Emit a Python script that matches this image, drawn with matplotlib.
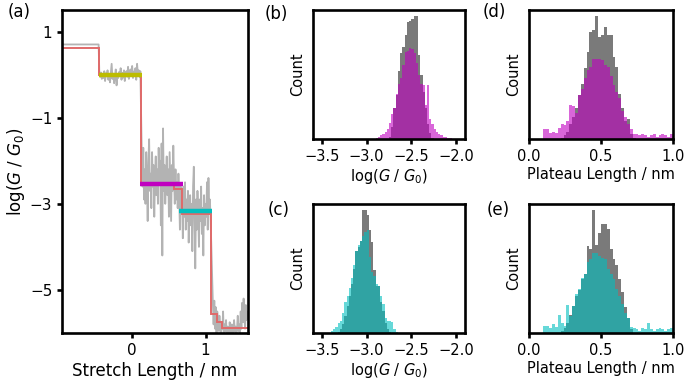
import numpy as np
import matplotlib
matplotlib.use("Agg")
import matplotlib.pyplot as plt

# ---------------- data: panel (a) trace ----------------
lead_x = [-0.96, -0.46]
lead_y = [0.70, 0.70]

seg1_x0, seg1_dx = -0.45, 0.0112
seg1_y = [0.02, -0.05, 0.05, -0.10, 0.00, -0.08, 0.08, -0.15, 0.03, -0.04, 0.10, -0.12,
          0.00, -0.18, 0.05, 0.25, -0.10, 0.02, -0.20, -0.06, 0.12, -0.25, 0.00, -0.08,
          0.06, -0.02, 0.15, -0.12, 0.04, -0.07, 0.10, -0.15, 0.02, 0.08, -0.05, 0.18,
          -0.10, 0.05, 0.12, -0.03, 0.20, -0.08, 0.07, 0.02, 0.15, -0.12, 0.25, 0.00,
          0.10, -0.05, 0.08]

seg2_x0, seg2_dx = 0.13, 0.01
seg2_y = [-1.9, -2.6, -1.7, -2.9, -2.2, -3.0, -1.8, -2.5, -3.4, -2.0, -1.5, -2.7, -2.3,
          -3.1, -1.8, -2.6, -2.1, -3.3, -2.4, -1.9, -2.8, -2.2, -3.0, -1.7, -2.5, -2.0,
          -3.5, -1.6, -4.2, -1.25, -2.7, -2.1, -3.0, -2.4, -1.9, -2.8, -2.2, -3.3, -1.8,
          -2.6, -3.4, -2.1, -2.7, -1.65, -2.4, -3.0, -2.2, -2.9, -2.5, -3.1, -2.3, -2.8,
          -3.6, -2.6, -3.2]

seg3_x0, seg3_dx = 0.68, 0.01
seg3_y = [-3.0, -3.8, -2.6, -3.3, -2.5, -3.6, -2.9, -3.4, -2.7, -3.9, -3.1, -2.8, -3.5,
          -3.0, -4.1, -2.6, -2.14, -3.3, -4.5, -2.9, -3.6, -2.7, -3.2, -4.0, -2.9, -3.4,
          -2.6, -3.7, -3.1, -4.2, -2.8, -3.5, -3.0, -3.3, -2.5, -3.6, -2.4, -3.2, -2.9,
          -3.4]

seg4_x0, seg4_dx = 1.10, 0.01
seg4_y = [-5.3, -5.8, -5.25, -5.9, -5.4, -6.1, -5.5, -5.7, -5.95, -5.6, -5.85, -6.1,
          -5.75, -5.9, -5.5, -6.1, -5.8, -5.95, -5.7, -6.1, -5.85, -5.9, -6.1, -5.75,
          -5.95, -6.1, -5.8, -5.9, -6.1, -5.7, -5.95, -5.85, -6.1, -5.9, -5.6, -5.95,
          -5.8, -6.1, -5.5, -5.9, -5.3, -5.75, -5.2, -5.6, -5.9, -5.35, -5.7, -5.5]

fit_edges = [-0.96, -0.45, 0.12, 0.57, 0.68, 1.08, 1.16, 1.23, 1.58]
fit_levels = [0.61, 0.0, -2.52, -2.66, -3.23, -5.56, -5.75, -5.88]

plateau_levels = [0.0, -2.54, -3.16]
plateau_starts = [-0.46, 0.10, 0.64]
plateau_ends = [0.13, 0.69, 1.09]
plateau_colors = ["#bcbc00", "#c000c0", "#00bfbf"]

# ---------------- data: histograms ----------------
g_edges_b = np.arange(-2.90, -2.0499, 0.025)
gray_b = [0, 0, 0, 0, 0, 0, 2, 10, 25, 36, 55, 70, 75, 85, 95, 96, 98, 100, 100, 68,
          52, 38, 25, 12, 5, 1, 0, 0, 0, 0, 0, 0, 0, 0]
mag_b = [1, 2, 3, 4, 6, 8, 13, 20, 25, 37, 45, 50, 60, 71, 72, 74, 73, 70, 62, 52,
         45, 44, 28, 44, 16, 12, 8, 6, 4, 3, 2, 2, 1, 1]

g_edges_c = np.arange(-3.45, -2.5999, 0.025)
gray_c = [0, 0, 0, 0, 0, 1, 3, 7, 14, 22, 30, 40, 52, 67, 70, 75, 100, 100, 96, 84,
          74, 51, 38, 38, 25, 18, 8, 3, 1, 0, 0, 0, 0, 0]
cyan_c = [0, 0, 2, 3, 5, 8, 10, 16, 25, 30, 37, 45, 55, 67, 72, 75, 79, 82, 84, 62,
          50, 46, 40, 38, 30, 24, 12, 10, 10, 9, 3, 1, 0, 0]

l_edges = np.arange(0.0, 1.0001, 0.02)
gray_d = [0, 0, 0, 0, 0, 0, 0, 0, 0, 0, 0, 1, 3, 6, 12, 18, 25, 36, 45, 58,
          71, 87, 89, 100, 83, 85, 91, 85, 85, 67, 59, 37, 25, 15, 16, 4, 1, 0, 0, 0,
          0, 0, 0, 0, 0, 0, 0, 0, 0, 0]
mag_d = [0, 0, 0, 0, 0, 8, 8, 5, 6, 5, 9, 12, 11, 15, 28, 27, 21, 36, 41, 50,
         56, 59, 65, 65, 65, 64, 60, 59, 51, 44, 38, 33, 23, 18, 12, 8, 4, 4, 3, 4,
         3, 2, 3, 4, 2, 3, 4, 3, 2, 4]
gray_e = [0, 0, 0, 0, 0, 0, 0, 0, 0, 0, 0, 2, 4, 8, 15, 22, 30, 35, 44, 48,
          71, 68, 100, 72, 81, 89, 89, 85, 68, 60, 55, 44, 33, 21, 12, 3, 0, 0, 0, 0,
          0, 0, 0, 0, 0, 0, 0, 0, 0, 0]
cyan_e = [0, 0, 0, 0, 0, 6, 6, 4, 7, 5, 15, 8, 6, 23, 14, 22, 32, 36, 45, 48,
          58, 60, 65, 65, 63, 61, 60, 52, 48, 44, 36, 30, 24, 16, 12, 5, 4, 3, 2, 4,
          3, 8, 3, 2, 3, 4, 3, 2, 3, 4]

# ---------------- figure ----------------
plt.rcParams['font.family'] = ['DejaVu Sans']
plt.rcParams['axes.linewidth'] = 1.9
plt.rcParams['xtick.major.width'] = 1.9
plt.rcParams['ytick.major.width'] = 1.9
plt.rcParams['xtick.major.size'] = 3.5
plt.rcParams['ytick.major.size'] = 3.5

fig = plt.figure(figsize=(6.85, 3.84), dpi=100)
W, H = 685.0, 384.0

def rect(l, r, t, b):
    return [l / W, 1 - b / H, (r - l) / W, (b - t) / H]

ax_a = fig.add_axes(rect(62, 248, 10, 333))
ax_b = fig.add_axes(rect(313, 465, 10, 139))
ax_c = fig.add_axes(rect(313, 465, 204, 333))
ax_d = fig.add_axes(rect(529, 673, 10, 139))
ax_e = fig.add_axes(rect(529, 673, 204, 333))

# panel (a)
def seg(x0, dx, ys):
    return x0 + dx * np.arange(len(ys))

tx = np.concatenate([lead_x, seg(seg1_x0, seg1_dx, seg1_y), seg(seg2_x0, seg2_dx, seg2_y),
                     seg(seg3_x0, seg3_dx, seg3_y), seg(seg4_x0, seg4_dx, seg4_y)])
ty = np.concatenate([lead_y, seg1_y, seg2_y, seg3_y, seg4_y])
ax_a.plot(tx, ty, color="#b3b3b3", lw=1.3, zorder=1)
ax_a.stairs(fit_levels, fit_edges, baseline=None, color="#e06a6a", lw=1.4, zorder=2)
for lv, s, e, c in zip(plateau_levels, plateau_starts, plateau_ends, plateau_colors):
    ax_a.plot([s, e], [lv, lv], color=c, lw=3.2, solid_capstyle="butt", zorder=3)
ax_a.set_xlim(-0.96, 1.58)
ax_a.set_ylim(-6.0, 1.5)
ax_a.set_xticks([0, 1])
ax_a.set_yticks([1, -1, -3, -5])
ax_a.tick_params(labelsize=11)
ax_a.set_xlabel("Stretch Length / nm", fontsize=12, labelpad=3)
ax_a.set_ylabel(r"log($G$ / $G_0$)", fontsize=12, labelpad=2)

GRAY = "#7a7a7a"

def hist_panel(ax, edges, g, col, ccol, xlim, xticks, xlabel):
    centers = (np.asarray(edges[:-1]) + np.asarray(edges[1:])) / 2
    ax.hist(centers, bins=edges, weights=g, color=GRAY, histtype="stepfilled", lw=0)
    ax.hist(centers, bins=edges, weights=col, color=ccol, alpha=0.6,
            histtype="stepfilled", lw=0)
    ax.set_xlim(*xlim)
    ax.set_ylim(0, 105)
    ax.set_yticks([])
    ax.set_xticks(xticks)
    ax.tick_params(labelsize=10.5)
    ax.set_xlabel(xlabel, fontsize=10.5, labelpad=2)
    ax.set_ylabel("Count", fontsize=10.5, labelpad=6)

hist_panel(ax_b, g_edges_b, gray_b, mag_b, "#c000c0", (-3.6, -1.9),
           [-3.5, -3.0, -2.5, -2.0], r"log($G$ / $G_0$)")
hist_panel(ax_c, g_edges_c, gray_c, cyan_c, "#00bfbf", (-3.6, -1.9),
           [-3.5, -3.0, -2.5, -2.0], r"log($G$ / $G_0$)")
hist_panel(ax_d, l_edges, gray_d, mag_d, "#c000c0", (0, 1),
           [0.0, 0.5, 1.0], "Plateau Length / nm")
hist_panel(ax_e, l_edges, gray_e, cyan_e, "#00bfbf", (0, 1),
           [0.0, 0.5, 1.0], "Plateau Length / nm")

for lab, x, y in [("(a)", 8, 12), ("(b)", 265, 14), ("(c)", 268, 210),
                  ("(d)", 483, 12), ("(e)", 487, 210)]:
    fig.text(x / W, 1 - y / H, lab, fontsize=12, va="center", ha="left")

fig.savefig("out.png", dpi=100)
